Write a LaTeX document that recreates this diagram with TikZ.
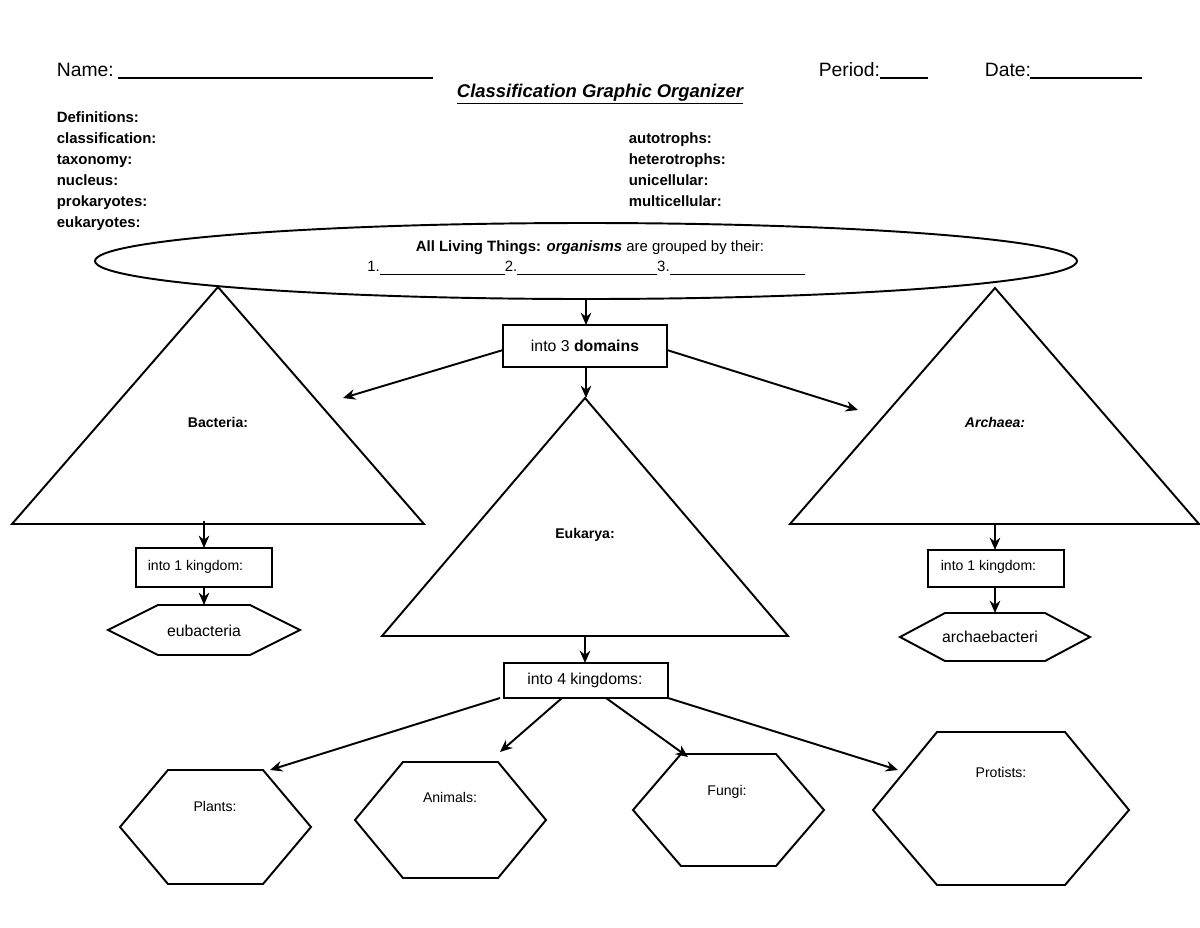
\documentclass[tikz,border=0pt]{standalone}
\usepackage{fontspec}
\setmainfont{Liberation Sans}
\usetikzlibrary{arrows.meta}
\begin{document}
\begin{tikzpicture}[x=0.02cm,y=-0.02cm,line width=1.1pt,
  arr/.style={-{Stealth[length=7pt,width=6pt]}},
  lbl/.style={font=\fontsize{8}{9}\selectfont},
  def/.style={anchor=base west,font=\fontsize{8.5}{10}\selectfont\bfseries},
  hd/.style={anchor=base west,font=\fontsize{11}{12}\selectfont}]
\useasboundingbox (0,0) rectangle (1200,927);
% header
\node[hd] (name) at (50,76) {Name:};
\draw[line width=0.6pt] (118,78) -- (433,78);
\node[hd] (per) at (812,76) {Period:};
\draw[line width=0.6pt] (880,78) -- (928,78);
\node[hd] (date) at (978,76) {Date:};
\draw[line width=0.6pt] (1030,78) -- (1142,78);
\node[font=\fontsize{10.5}{12}\selectfont\bfseries\itshape] (title) at (600,94) {\underline{Classification Graphic Organizer}};
\foreach \t [count=\i from 0] in {Definitions:,classification:,taxonomy:,nucleus:,prokaryotes:,eukaryotes:}
  \node[def] (d\i) at (50,122+21*\i) {\t};
\foreach \t [count=\i from 1] in {autotrophs:,heterotrophs:,unicellular:,multicellular:}
  \node[def] (e\i) at (622,122+21*\i) {\t};
% ellipse
\draw (586,261) ellipse [x radius=491,y radius=38];
\node[font=\fontsize{8.5}{10}\selectfont] (all) at (590,248) {\textbf{All Living Things: \textit{organisms}} are grouped by their:};
\node[font=\fontsize{8.5}{10}\selectfont] (nums) at (586,268) {1.\underline{\hspace{2.5cm}}2.\underline{\hspace{2.8cm}}3.\underline{\hspace{2.7cm}}};
\coordinate (ellb) at (586,299);
% triangles
\draw (218,287) -- (12,524) -- (424,524) -- cycle;
\draw (995,288) -- (790,524) -- (1199,524) -- cycle;
\draw (585,398) -- (382,636) -- (788,636) -- cycle;
\node[font=\fontsize{8}{9}\selectfont\bfseries] (bac) at (218,422) {Bacteria:};
\node[font=\fontsize{8}{9}\selectfont\bfseries\itshape] (arc) at (995,422) {Archaea:};
\node[font=\fontsize{8}{9}\selectfont\bfseries] (euk) at (585,535) {Eukarya:};
\coordinate (lapx) at (343,398);
\coordinate (rapx) at (858,410);
\coordinate (mapx) at (586,398);
% domains box
\draw (503,325) rectangle (667,367);
\node[font=\fontsize{9}{10}\selectfont] (dom) at (585,346) {into 3 \textbf{domains}};
\draw[arr] (ellb) -- (586,325);
\draw[arr] (503,350) -- (lapx);
\draw[arr] (667,350) -- (rapx);
\draw[arr] (586,367) -- (mapx);
% left branch
\draw[arr] (204,521) -- (204,548);
\draw (136,548) rectangle (272,587);
\node[lbl,anchor=west] (k1) at (141,567) {into 1 kingdom:};
\draw[arr] (204,587) -- (204,605);
\draw (108,630) -- (158,605) -- (250,605) -- (300,630) -- (250,655) -- (158,655) -- cycle;
\node[font=\fontsize{9}{10}\selectfont] (eub) at (204,631) {eubacteria};
% right branch
\draw[arr] (995,524) -- (995,550);
\draw (928,550) rectangle (1064,587);
\node[lbl,anchor=west] (k2) at (934,567) {into 1 kingdom:};
\draw[arr] (995,587) -- (995,613);
\draw (900,637) -- (945,613) -- (1045,613) -- (1090,637) -- (1045,661) -- (945,661) -- cycle;
\node[font=\fontsize{9}{10}\selectfont] (arb) at (990,637) {archaebacteri};
% middle branch
\draw[arr] (585,636) -- (585,663);
\draw (504,663) rectangle (668,698);
\node[font=\fontsize{9}{10}\selectfont] (k4) at (585,680) {into 4 kingdoms:};
\draw[arr] (500,698) -- (270,770);
\draw[arr] (562,698) -- (500,752);
\draw[arr] (606,698) -- (688,757);
\draw[arr] (668,698) -- (898,770);
\draw (120,827) -- (168,770) -- (263,770) -- (311,827) -- (263,884) -- (168,884) -- cycle;
\draw (355,820) -- (403,762) -- (498,762) -- (546,820) -- (498,878) -- (403,878) -- cycle;
\draw (633,810) -- (681,754) -- (776,754) -- (824,810) -- (776,866) -- (681,866) -- cycle;
\draw (873,810) -- (937,732) -- (1065,732) -- (1129,810) -- (1065,885) -- (937,885) -- cycle;
\node[lbl] (pl) at (215,806) {Plants:};
\node[lbl] (an) at (450,797) {Animals:};
\node[lbl] (fu) at (727,792) {Fungi:};
\node[lbl] (pr) at (1001,772) {Protists:};
\end{tikzpicture}
\end{document}
